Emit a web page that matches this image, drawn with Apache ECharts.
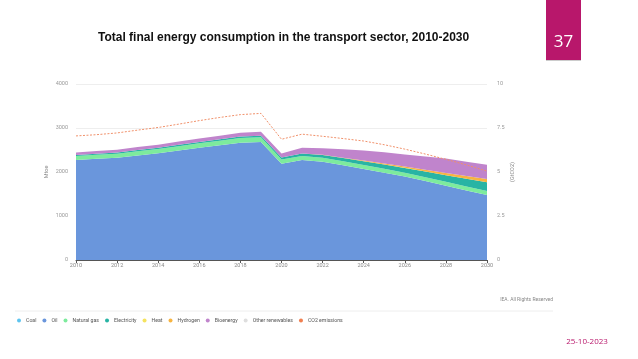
<!DOCTYPE html>
<html>
<head>
<meta charset="utf-8">
<script src="https://cdn.jsdelivr.net/npm/echarts@6/dist/echarts.min.js"></script>
<style>html,body{margin:0;padding:0;background:#fff}#c{width:638px;height:359px}</style>
</head>
<body>
<div id="c"></div>
<script>
const years = ['2010','2011','2012','2013','2014','2015','2016','2017','2018','2019','2020','2021','2022','2023','2024','2025','2026','2027','2028','2029','2030'];
const coal = [0,0,0,0,0,0,0,0,0,0,0,0,0,0,0,0,0,0,0,0,0];
const oil = [2273,2300,2325,2375,2424,2490,2553,2610,2667,2682,2190,2275,2235,2155,2070,1985,1895,1795,1690,1582,1475];
const naturalGas = [88,90,92,95,97,98,100,102,104,105,95,90,88,88,88,88,88,88,88,90,92];
const electricity = [25,26,27,28,29,30,31,32,33,35,45,55,65,75,88,98,110,128,148,172,198];
const heat = [0,0,0,0,0,0,0,0,0,0,0,0,0,0,1,1,1,1,2,2,2];
const hydrogen = [0,0,0,0,0,0,0,0,0,0,0,0,2,6,12,20,30,40,50,62,76];
const bioenergy = [60,62,63,68,72,76,78,82,88,92,92,133,148,191,230,258,276,303,327,327,322];
const otherRenewables = [0,0,0,0,0,0,0,0,0,0,0,0,0,0,0,0,0,0,0,0,0];
const co2 = [7.05,7.12,7.22,7.38,7.53,7.72,7.92,8.1,8.26,8.33,6.86,7.15,7.03,6.9,6.76,6.55,6.3,6.02,5.72,5.4,5.05];
const legendNames = ['Coal','Oil','Natural gas','Electricity','Heat','Hydrogen','Bioenergy','Other renewables','CO2 emissions'];

const chart = echarts.init(document.getElementById('c'), null, {renderer:'canvas'});
const font = 'Roboto, "Noto Sans", sans-serif';
function area(name, data, color){
  return {name, type:'line', stack:'total', data, symbol:'none', showSymbol:false,
    lineStyle:{width:0}, areaStyle:{color, opacity:1}, itemStyle:{color}, z:2};
}
chart.setOption({
  animation:false,
  title:{text:'Total final energy consumption in the transport sector, 2010-2030', left:93, top:27,
    textStyle:{fontFamily:'"Liberation Sans", Arial, sans-serif', fontWeight:'bold', fontSize:12, color:'#111'}},
  legend:{left:17, top:318, icon:'circle', itemWidth:4, itemHeight:4, itemGap:6, padding:0,
    textStyle:{fontSize:5.2, color:'#555', fontFamily:font},
    data:legendNames},
  grid:{left:76, right:151, top:84, bottom:99},
  xAxis:{type:'category', data:years, boundaryGap:false,
    axisLine:{lineStyle:{color:'#555', width:1}},
    axisTick:{show:true, interval:1, length:3, lineStyle:{color:'#555'}},
    axisLabel:{interval:1, fontSize:5.5, color:'#888', margin:3, fontFamily:font}},
  yAxis:[
    {type:'value', min:0, max:4000, interval:1000, name:'Mtoe', nameLocation:'middle', nameGap:26, nameMoveOverlap:false,
      nameTextStyle:{fontSize:5.5, color:'#888', fontFamily:font},
      axisLabel:{fontSize:5.5, color:'#999', margin:8, fontFamily:font, formatter:v=>String(v)},
      axisLine:{show:false}, axisTick:{show:false},
      splitLine:{lineStyle:{color:'#eee', width:1}}},
    {type:'value', min:0, max:10, interval:2.5, name:'(GtCO2)', nameLocation:'middle', nameGap:23, nameMoveOverlap:false,
      nameTextStyle:{fontSize:5.5, color:'#888', fontFamily:font},
      axisLabel:{fontSize:5.5, color:'#999', margin:10, fontFamily:font, formatter:v=>String(v)},
      axisLine:{show:false}, axisTick:{show:false}, splitLine:{show:false}}
  ],
  series:[
    area('Coal', coal, '#5ec4ef'),
    area('Oil', oil, '#6a96dc'),
    area('Natural gas', naturalGas, '#7deb9d'),
    area('Electricity', electricity, '#28b4a4'),
    area('Heat', heat, '#f5e35f'),
    area('Hydrogen', hydrogen, '#f7b441'),
    area('Bioenergy', bioenergy, '#c084cc'),
    area('Other renewables', otherRenewables, '#dedede'),
    {name:'CO2 emissions', type:'line', yAxisIndex:1, data:co2, symbol:'none', showSymbol:false,
      lineStyle:{color:'#f0906a', width:1, type:[2,1.5]}, itemStyle:{color:'#f07f50'}, z:5}
  ],
  graphic:[
    {type:'rect', shape:{x:546, y:1, width:35, height:60}, style:{fill:'#ccc'}, z:0},
    {type:'rect', shape:{x:546, y:0, width:35, height:60}, style:{fill:'#b8176b'}, z:1},
    {type:'text', x:563.5, y:42, style:{text:'37', fill:'#fff', fontSize:17, fontFamily:'"Open Sans", sans-serif', textAlign:'center', textVerticalAlign:'middle'}, z:2},
    {type:'line', shape:{x1:15, y1:311, x2:553, y2:311}, style:{stroke:'#eee', lineWidth:1}},
    {type:'text', x:553, y:300, style:{text:'IEA. All Rights Reserved', fill:'#888', fontSize:5, fontFamily:font, textAlign:'right', textVerticalAlign:'middle'}},
    {type:'text', x:587, y:342, style:{text:'25-10-2023', fill:'#b8176b', fontSize:8, fontFamily:'"Open Sans", sans-serif', textAlign:'center', textVerticalAlign:'middle'}}
  ]
});
</script>
</body>
</html>
